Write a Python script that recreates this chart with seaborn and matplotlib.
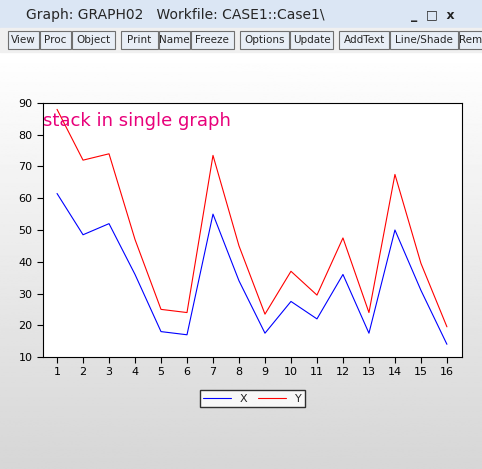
import numpy as np
import pandas as pd
import matplotlib
matplotlib.use("Agg")
import matplotlib.pyplot as plt
import seaborn as sns
from matplotlib.patches import Rectangle

obs = list(range(1, 17))
x_vals = [61.5, 48.5, 52, 36, 18, 17, 55, 34, 17.5, 27.5, 22, 36, 17.5, 50, 31, 14]
y_vals = [26.5, 23.5, 22, 11, 7, 7, 18.5, 11, 6, 9.5, 7.5, 11.5, 6.5, 17.5, 8.5, 5.5]
buttons = ["View", "Proc", "Object", "Print", "Name", "Freeze", "Options", "Update",
           "AddText", "Line/Shade", "Remo"]

# Y is drawn stacked on top of X
df = pd.DataFrame({"obs": obs, "X": x_vals, "Y": np.add(x_vals, y_vals)})

sns.set_style("white")
plt.rcParams['font.family'] = ['DejaVu Sans']
W, H = 482, 469
fig = plt.figure(figsize=(W / 100, H / 100), dpi=100)

# window background gradient
bg = fig.add_axes([0, 0, 1, 1])
grad = np.linspace(1.0, 0.84, 256).reshape(-1, 1)
bg.imshow(grad, cmap="gray", vmin=0, vmax=1, aspect="auto", extent=[0, W, 0, H - 52])
bg.set_xlim(0, W)
bg.set_ylim(0, H)
bg.axis("off")
# title bar
bg.add_patch(Rectangle((0, H - 28), W, 28, color="#dbe6f4"))
bg.text(26, H - 15, "Graph: GRAPH02   Workfile: CASE1::Case1\\", fontsize=10, va="center")
bg.text(455, H - 15, "_  \u25a1  x", fontsize=9, va="center", ha="right", weight="bold")
# toolbar
bg.add_patch(Rectangle((0, H - 52), W, 24, color="#f0f0f0"))
xpos = 8
for b in buttons:
    w = len(b) * 6.2 + 6
    bg.add_patch(Rectangle((xpos, H - 49), w, 18, facecolor="#e8eef6", edgecolor="#707070", lw=0.8))
    bg.text(xpos + w / 2, H - 40, b, fontsize=7.5, ha="center", va="center", clip_on=True)
    xpos += w + (6 if b in ("Object", "Freeze", "Update") else 1)

ax = fig.add_axes([43 / W, (H - 357) / H, 419 / W, 254 / H])
sns.lineplot(data=df, x="obs", y="X", color="blue", lw=0.8, ax=ax, label="X")
sns.lineplot(data=df, x="obs", y="Y", color="red", lw=0.8, ax=ax, label="Y")
ax.set_xlim(0.46, 16.58)
ax.set_ylim(10, 90)
ax.set_xticks(obs)
ax.set_yticks(range(10, 91, 10))
ax.set_xlabel("")
ax.set_ylabel("")
ax.tick_params(direction="out", length=4, labelsize=8, left=True, bottom=True, colors="black")
for s in ax.spines.values():
    s.set_color("black")
    s.set_linewidth(0.8)
ax.text(0.0, 0.93, "stack in single graph", transform=ax.transAxes, color="#e8007a", fontsize=13, va="center")
ax.legend(loc="upper center", bbox_to_anchor=(0.5, -0.11), ncol=2, frameon=True, fancybox=False,
          edgecolor="black", fontsize=8, handlelength=2.5, borderpad=0.3, columnspacing=1.0)

fig.savefig("out.png", dpi=100)
